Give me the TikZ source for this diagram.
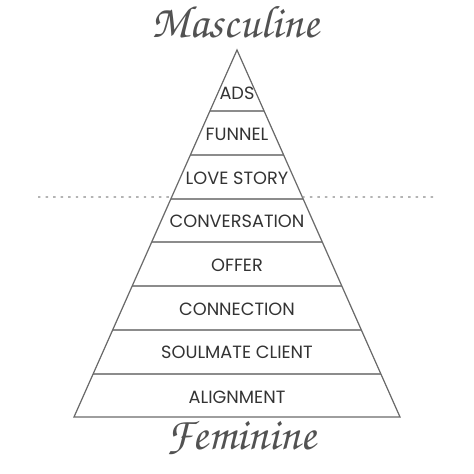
\documentclass[tikz,border=0pt]{standalone}
\usepackage[T1]{fontenc}
\usepackage{fontspec}
\setmainfont{Poppins}
\usetikzlibrary{calc}
\definecolor{pyLine}{HTML}{6A6A6A}
\definecolor{pyGray}{HTML}{8C8C8C}
\definecolor{pyText}{HTML}{333333}
\newcommand{\scriptfnt}{\fontencoding{T1}\fontfamily{pzc}\fontseries{m}\fontshape{it}\selectfont}

\begin{document}
\begin{tikzpicture}[x=0.02cm, y=-0.02cm,
  warstwa/.style={font=\fontsize{10.1}{12}\selectfont, text=pyText},
  opis/.style={font=\scriptfnt\fontsize{26}{28}\selectfont, text=pyText!85}]
  \useasboundingbox (0,0) rectangle (474,474);
  % wierzchołki piramidy
  \coordinate (apex) at (237,50);
  \coordinate (bl) at (74,417);
  \coordinate (br) at (400,417);
  % poziome podziały warstw
  \foreach \y in {111,155,199,242,286,330,374}{
    \pgfmathsetmacro{\t}{(\y-50)/367}
    \draw[pyGray, line width=0.6pt] ($(apex)!\t!(bl)$) -- ($(apex)!\t!(br)$);
  }
  \draw[pyLine, line width=0.7pt, line join=miter] (bl) -- (apex) -- (br) -- cycle;
  % linia przerywana — tylko poza piramidą
  \coordinate (dl) at ($(apex)!0.4005!(bl)$);
  \coordinate (dr) at ($(apex)!0.4005!(br)$);
  \coordinate (dL) at (38,197);
  \coordinate (dR) at (434,197);
  \draw[pyGray, line width=0.6pt, dash pattern=on 1.4pt off 2.9pt] (dL) -- (dl);
  \draw[pyGray, line width=0.6pt, dash pattern=on 1.4pt off 2.9pt] (dr) -- (dR);
  % etykiety warstw
  \foreach \nm/\y/\txt in {ads/93/ADS, funnel/134/FUNNEL, love/178/LOVE STORY,
      conv/221/CONVERSATION, offer/265/OFFER, conn/309/CONNECTION,
      soul/352/SOULMATE CLIENT, align/397/ALIGNMENT}
    \node[warstwa] (\nm) at (237,\y) {\txt};
  % opisy biegunów
  \node[opis] (masc) at (235,22) {Masculine};
  \node[opis] (fem) at (241,438) {Feminine};
\end{tikzpicture}
\end{document}
